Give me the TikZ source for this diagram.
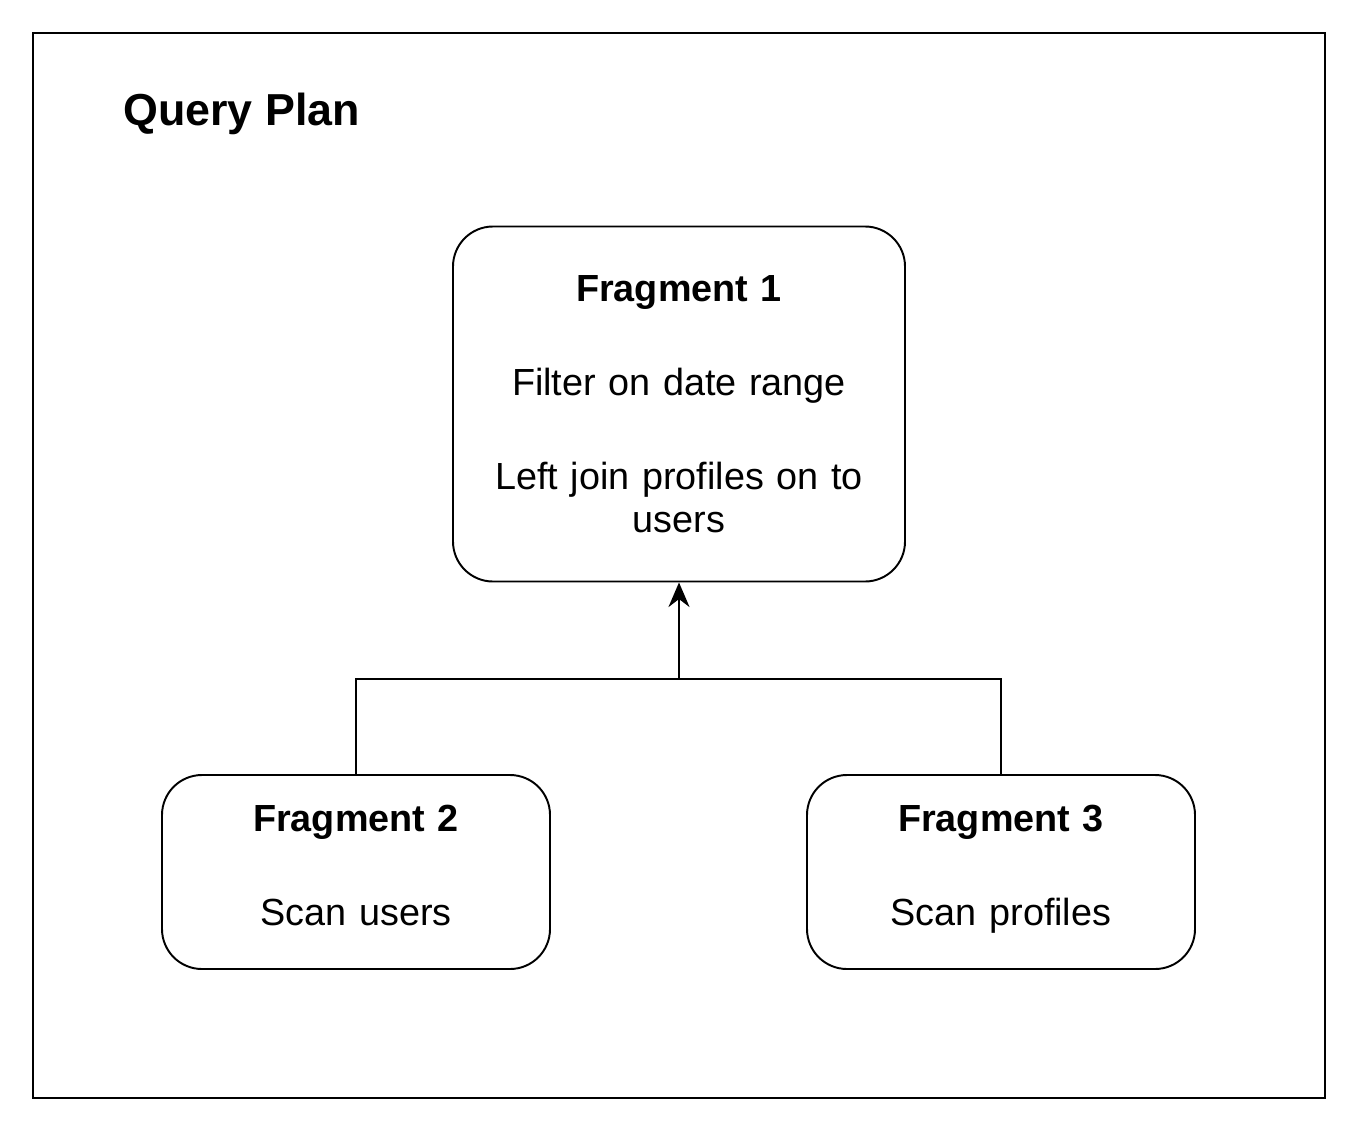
\documentclass[tikz,border=0pt]{standalone}
\usepackage{fontspec}
\setmainfont{Liberation Sans}
\usetikzlibrary{arrows.meta}
\tikzset{
  frag/.style={draw, line width=1.1pt, rounded corners=0.8cm, align=center, inner sep=0pt,
    font=\fontsize{21.5}{24.4}\selectfont},
  link/.style={line width=1.1pt}
}
\begin{document}
\begin{tikzpicture}[x=0.02cm, y=-0.02cm]
            % Frame and title
            \useasboundingbox (0,0) rectangle (1358,1132);
            \draw[line width=1.1pt] (33,33) rectangle (1325,1098);
            \node[anchor=west, inner sep=0pt, font=\fontsize{25.5}{28}\selectfont\bfseries] (title) at (123,114) {Query Plan};

            % Fragments
            \node[frag, minimum width=452*0.02cm, minimum height=355*0.02cm, text width=430*0.02cm] (f1) at (679,404)
                {\textbf{Fragment 1}\\[29pt] Filter on date range\\[29pt] Left join profiles on to\\ users};
            \node[frag, minimum width=388*0.02cm, minimum height=194*0.02cm, text width=370*0.02cm] (f2) at (356,872)
                {\textbf{Fragment 2}\\[29pt] Scan users\strut};
            \node[frag, minimum width=388*0.02cm, minimum height=194*0.02cm, text width=370*0.02cm] (f3) at (1001,872)
                {\textbf{Fragment 3}\\[29pt] Scan profiles\strut};

            % Connectors
            \coordinate (join) at (679,679);
            \draw[link] (f2.north) |- (join) -| (f3.north);
            \draw[link, -{Stealth[length=14pt, width=12pt]}] (join) -- (f1.south);
\end{tikzpicture}
\end{document}
